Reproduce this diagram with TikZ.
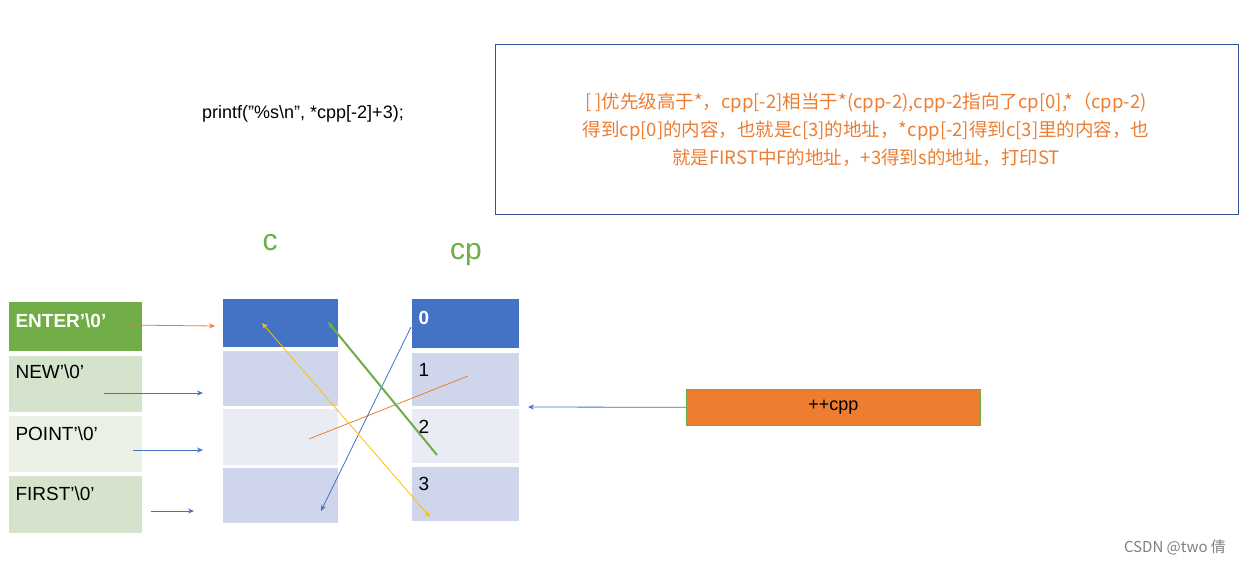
\documentclass[tikz,border=0pt]{standalone}
\usepackage{fontspec}
\setmainfont{Liberation Sans}
\newfontfamily\cjk{Noto Sans CJK SC}
\usetikzlibrary{arrows.meta}
\definecolor{cblue}{HTML}{4472C4}
\definecolor{cl1}{HTML}{CFD5EA}
\definecolor{cl2}{HTML}{E9EBF5}
\definecolor{gr}{HTML}{70AD47}
\definecolor{gl1}{HTML}{D6E3CC}
\definecolor{gl2}{HTML}{EAF0E6}
\definecolor{org}{HTML}{ED7D31}
\definecolor{yel}{HTML}{FFC000}
\definecolor{bord}{HTML}{2F5597}
\begin{document}
\begin{tikzpicture}[x=1pt,y=-1pt,
  cell/.style={draw=white,line width=1pt,anchor=north west,inner sep=0pt},
  lbl/.style={font=\fontsize{19}{19}\selectfont,anchor=west},
  arr/.style={-{Stealth[length=6pt,width=5pt]},line width=0.8pt}]
\useasboundingbox (0,0) rectangle (1255,565);
\fill[white] (0,0) rectangle (1255,565);
\node[font=\fontsize{18}{18}\selectfont] (pf) at (303,114) {printf("\%s\textbackslash n", *cpp[-2]+3);};
\node[draw=bord,line width=0.8pt,anchor=north west,minimum width=743pt,minimum height=170pt] (box) at (495,44) {};
\node[text=org,align=center,font=\cjk\fontsize{18.5}{28}\selectfont] (txt) at (866,130) {[ ]优先级高于*，cpp[-2]相当于*(cpp-2),cpp-2指向了cp[0],*（cpp-2)\\得到cp[0]的内容，也就是c[3]的地址，*cpp[-2]得到c[3]里的内容，也\\就是FIRST中F的地址，+3得到s的地址，打印ST};
\node[text=gr,font=\fontsize{30}{30}\selectfont] (cl) at (270,243) {c};
\node[text=gr,font=\fontsize{30}{30}\selectfont] (cpl) at (466,255) {cp};
% left strings
\node[cell,fill=gr,minimum width=134pt,minimum height=50pt] (s0) at (8,301) {};
\node[cell,fill=gl1,minimum width=134pt,minimum height=57pt] (s1) at (8,355) {};
\node[cell,fill=gl2,minimum width=134pt,minimum height=57pt] (s2) at (8,415) {};
\node[cell,fill=gl1,minimum width=134pt,minimum height=58pt] (s3) at (8,475) {};
\node[lbl,text=white,font=\bfseries\fontsize{19}{19}\selectfont] at (12,321) {ENTER’\textbackslash 0’};
\node[lbl] at (12,372) {NEW’\textbackslash 0’};
\node[lbl] at (12,434) {POINT’\textbackslash 0’};
\node[lbl] at (12,494) {FIRST’\textbackslash 0’};
% c column
\node[cell,fill=cblue,minimum width=116pt,minimum height=49pt] (c0) at (222,298) {};
\node[cell,fill=cl1,minimum width=116pt,minimum height=56pt] (c1) at (222,350) {};
\node[cell,fill=cl2,minimum width=116pt,minimum height=57pt] (c2) at (222,408) {};
\node[cell,fill=cl1,minimum width=116pt,minimum height=56pt] (c3) at (222,467) {};
% cp column
\node[cell,fill=cblue,minimum width=108pt,minimum height=50pt] (p0) at (411,298) {};
\node[cell,fill=cl1,minimum width=108pt,minimum height=54pt] (p1) at (411,352) {};
\node[cell,fill=cl2,minimum width=108pt,minimum height=55pt] (p2) at (411,408) {};
\node[cell,fill=cl1,minimum width=108pt,minimum height=55pt] (p3) at (411,466) {};
\node[lbl,text=white,font=\bfseries\fontsize{19}{19}\selectfont] at (415,318) {0};
\node[lbl] at (415,370) {1};
\node[lbl] at (415,427) {2};
\node[lbl] at (415,484) {3};
% ++cpp
\node[draw=gr,line width=0.6pt,fill=org,anchor=north west,minimum width=294pt,minimum height=36pt,inner sep=0pt,font=\fontsize{18}{18}\selectfont] (inc) at (686,389) {++cpp};
% coordinates
\coordinate (a0s) at (126,325); \coordinate (a0e) at (215,326);
\coordinate (a1s) at (104,393); \coordinate (a1e) at (203,393);
\coordinate (a2s) at (133,450); \coordinate (a2e) at (203,450);
\coordinate (a3s) at (151,511); \coordinate (a3e) at (194,511);
\coordinate (ie) at (528,407);
\coordinate (os) at (309,439); \coordinate (oe) at (468,376);
\coordinate (bs) at (411,327); \coordinate (be) at (321,511);
\coordinate (gs) at (437,455); \coordinate (ge) at (328,322);
\coordinate (ys) at (262,323); \coordinate (ye) at (430,517);
\draw[arr,org] (a0s) -- (a0e);
\draw[arr,cblue] (a1s) -- (a1e);
\draw[arr,cblue] (a2s) -- (a2e);
\draw[arr,cblue] (a3s) -- (a3e);
\draw[arr,cblue] (inc.west) -- (ie);
\draw[org,line width=0.8pt] (os) -- (oe);
\draw[arr,cblue] (bs) -- (be);
\draw[arr,gr,line width=2pt] (gs) -- (ge);
\draw[{Stealth[length=6pt,width=5pt]}-{Stealth[length=6pt,width=5pt]},yel,line width=0.8pt] (ys) -- (ye);
\node[text=gray,font=\cjk\fontsize{15}{15}\selectfont] (wm) at (1175,547) {CSDN @two 倩};
\end{tikzpicture}
\end{document}
